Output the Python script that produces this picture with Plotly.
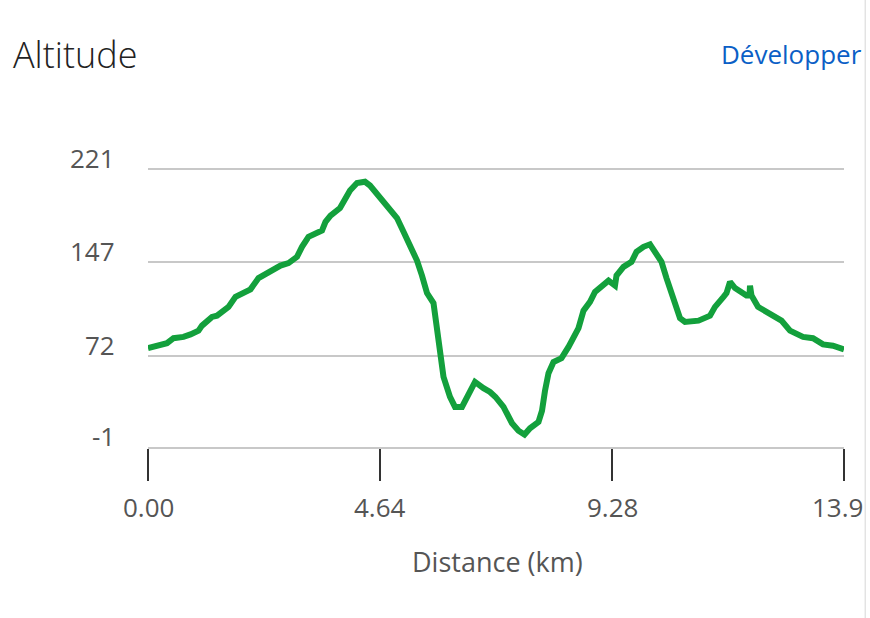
import plotly.graph_objects as go

# ---- data ----
distance_km = [0.00, 0.20, 0.38, 0.51, 0.71, 0.85, 1.01, 1.08, 1.28, 1.38, 1.61, 1.75, 2.05, 2.21,
               2.38, 2.65, 2.81, 2.98, 3.08, 3.21, 3.48, 3.55, 3.65, 3.84, 3.94, 4.04, 4.18, 4.34,
               4.44, 4.61, 4.71, 4.88, 4.98, 5.11, 5.24, 5.38, 5.48, 5.58, 5.71, 5.81, 5.91, 6.04,
               6.14, 6.28, 6.38, 6.54, 6.71, 6.84, 6.95, 7.11, 7.28, 7.41, 7.53, 7.64, 7.81, 7.88,
               7.94, 8.01, 8.11, 8.27, 8.41, 8.51, 8.61, 8.71, 8.84, 8.94, 9.21, 9.34, 9.37, 9.51,
               9.67, 9.77, 9.91, 10.04, 10.14, 10.27, 10.37, 10.51, 10.64, 10.74, 11.01, 11.24,
               11.34, 11.51, 11.57, 11.64, 11.74, 11.97, 12.03, 12.04, 12.07, 12.20, 12.47, 12.67,
               12.84, 13.10, 13.30, 13.50, 13.70, 13.92]
altitude_m = [78, 80, 82, 86, 87, 89, 92, 96, 103, 104, 111, 119, 125, 134,
              138, 144, 146, 151, 159, 167, 172, 179, 184, 190, 197, 204, 210, 211,
              208, 200, 196, 187, 182, 171, 160, 148, 136, 122, 114, 87, 55, 39,
              31, 31, 39, 51, 46, 43, 39, 31, 18, 12, 9, 14, 19, 28,
              44, 58, 67, 70, 79, 86, 94, 108, 115, 123, 132, 128, 136, 143,
              147, 155, 159, 161, 155, 147, 134, 116, 102, 99, 100, 104,
              111, 119, 122, 131, 126, 120, 120, 128, 120, 111, 104, 100,
              92, 87, 86, 81, 80, 77]

x_tickvals = [0.0, 4.64, 9.28, 13.92]
x_ticktext = ["0.00", "4.64", "9.28", "13.9"]   # last label is cut off by the panel edge
y_tickvals = [-1, 72, 147, 221]
y_ticktext = ["-1", "72", "147", "221"]

title_text = "Altitude"
link_text = "Développer"
x_title = "Distance (km)"

# ---- layout geometry (pixels) ----
W, H = 866, 618
Y_MIN, Y_MAX = -1, 222
L, R_EDGE = 147.6, 844.0
B_EDGE = 446.7
PX_PER_UNIT = 1.2495
T = B_EDGE - (Y_MAX - Y_MIN) * PX_PER_UNIT


def px_x(p):
    return (p - L) / (R_EDGE - L)


def px_y(p):
    return (B_EDGE - p) / (B_EDGE - T)


FONT = "Open Sans, Noto Sans, sans-serif"
tick_font = dict(family=FONT, size=26, color="#555555")

fig = go.Figure()
fig.add_trace(go.Scatter(
    x=distance_km, y=altitude_m, mode="lines",
    line=dict(color="#13a03c", width=6),
    hoverinfo="skip", showlegend=False,
))

annotations = [
    dict(text=title_text, xref="paper", yref="paper", x=px_x(11), y=px_y(55),
         xanchor="left", yanchor="middle", showarrow=False,
         font=dict(family=FONT, size=36, color="#222222", weight=300)),
    dict(text=link_text, xref="paper", yref="paper", x=px_x(864), y=px_y(54),
         xanchor="right", yanchor="middle", showarrow=False,
         font=dict(family=FONT, size=26, color="#0b5fc6")),
]
for v, t in zip(y_tickvals, y_ticktext):
    annotations.append(dict(text=t, xref="paper", yref="y", x=px_x(116.5), y=v,
                            xanchor="right", yanchor="middle", yshift=11, showarrow=False,
                            font=tick_font))
# x tick labels placed at the axis values
for i, (v, t) in enumerate(zip(x_tickvals, x_ticktext)):
    last = i == len(x_tickvals) - 1
    annotations.append(dict(text=t, xref="x", yref="paper", x=v, y=0,
                            xanchor="right" if last else "center",
                            xshift=21 if last else 0,
                            yanchor="middle", yshift=-60, showarrow=False,
                            font=tick_font))

fig.update_layout(
    width=W, height=H,
    margin=dict(l=L, r=W - R_EDGE, t=T, b=H - B_EDGE, pad=0),
    paper_bgcolor="white", plot_bgcolor="white",
    xaxis=dict(
        range=[0, 13.92], tickmode="array", tickvals=x_tickvals,
        showticklabels=False,
        showgrid=False, zeroline=False, showline=True, linecolor="#c8c8c8", linewidth=2,
        ticks="outside", ticklen=32, tickwidth=1.5, tickcolor="#333333",
        fixedrange=True,
    ),
    yaxis=dict(
        range=[Y_MIN, Y_MAX], tickmode="array", tickvals=y_tickvals,
        showticklabels=False,
        showgrid=True, gridcolor="#c8c8c8", gridwidth=2, zeroline=False, showline=False,
        ticks="", fixedrange=True,
    ),
    annotations=annotations + [
        dict(text=x_title, xref="paper", yref="paper", x=px_x(497), y=px_y(561),
             xanchor="center", yanchor="middle", showarrow=False,
             font=dict(family=FONT, size=27, color="#555555")),
    ],
    shapes=[
        dict(type="line", xref="paper", yref="paper", x0=px_x(865.3), x1=px_x(865.3),
             y0=-1, y1=2, line=dict(color="#e3e3e3", width=1.5)),
    ],
)

fig.write_html("out.html", config={"displayModeBar": False})
